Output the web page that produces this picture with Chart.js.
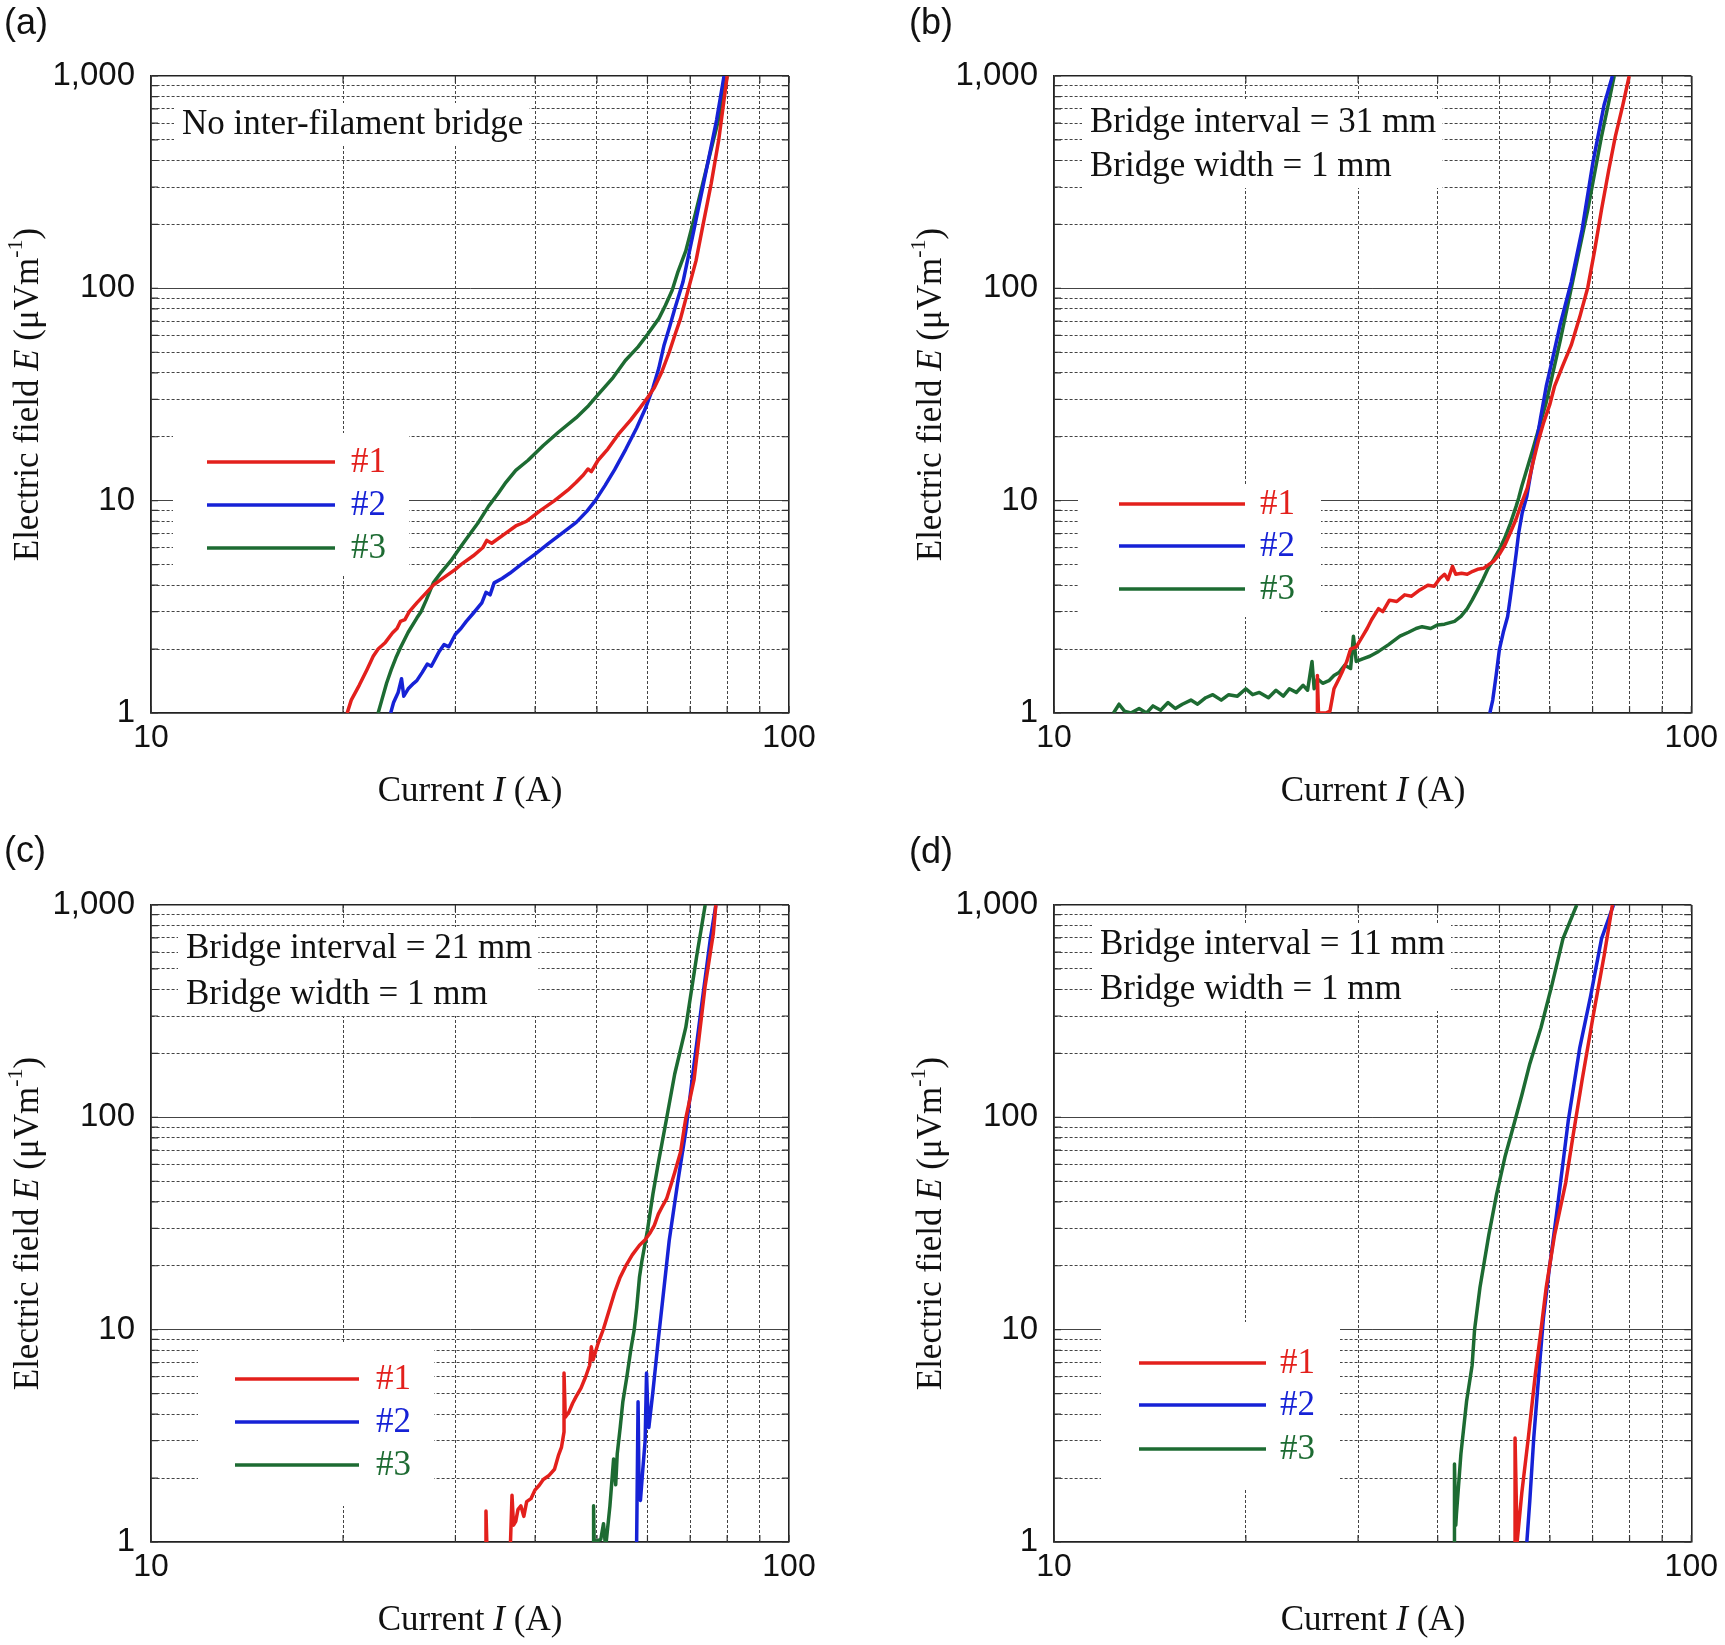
<!DOCTYPE html>
<html>
<head>
<meta charset="utf-8">
<script src="https://cdn.jsdelivr.net/npm/chart.js@4.4.1/dist/chart.umd.min.js"></script>
<style>
  html, body { margin: 0; padding: 0; background: #fff; }
  #wrap { position: relative; width: 1725px; height: 1645px; background: #fff; }
  canvas { position: absolute; }
</style>
</head>
<body>
<div id="wrap">
  <canvas id="pa" width="862" height="822" style="left:0;top:0"></canvas>
  <canvas id="pb" width="862" height="822" style="left:862px;top:0"></canvas>
  <canvas id="pc" width="862" height="822" style="left:0;top:822px"></canvas>
  <canvas id="pd" width="862" height="822" style="left:862px;top:822px"></canvas>
</div>
<script>
// E–I curves: [current I (A), electric field E (µV/m)]
// null E = trace drops below 1 µV/m (gap)

// (a) no inter-filament bridge
const aRed = [[20.3,1.0],[20.6,1.15],[21.2,1.35],[21.8,1.6],[22.3,1.85],[22.7,2.0],[23.3,2.15],[23.9,2.38],[24.3,2.5],[24.6,2.7],[25.0,2.75],[25.4,3.0],[26.1,3.3],[26.7,3.55],[27.7,4.0],[28.8,4.35],[30.0,4.75],[30.6,5.0],[32.0,5.5],[33.1,6.0],[33.6,6.5],[34.2,6.3],[35.9,7.0],[37.3,7.6],[38.8,8.0],[40.8,9.0],[42.9,10.0],[45.0,11.2],[46.4,12.2],[47.6,13.2],[48.4,14.1],[49.0,13.7],[50.2,15.5],[52.0,17.5],[54.0,20.5],[56.5,24],[58.5,27.5],[60.0,30.5],[61.5,34],[63.1,40],[64.9,50],[66.2,60],[67.6,72],[69.6,100],[71.5,135],[73.1,190],[75.5,310],[77.6,500],[80.0,1000]];
const aBlue = [[23.75,1.0],[24.0,1.12],[24.4,1.25],[24.7,1.45],[24.9,1.2],[25.3,1.3],[25.8,1.38],[26.1,1.42],[26.6,1.55],[27.1,1.7],[27.5,1.66],[28.3,1.95],[28.8,2.1],[29.3,2.05],[30.0,2.35],[30.6,2.5],[31.2,2.7],[32.0,2.95],[33.0,3.3],[33.5,3.7],[34.0,3.6],[34.5,4.1],[35.5,4.3],[36.5,4.55],[38.0,5.0],[40.0,5.6],[42.0,6.3],[44.0,7.0],[46.4,7.9],[48.2,8.9],[49.7,10.0],[51.5,11.8],[53.3,14.0],[55.5,17.5],[57.7,22],[59.5,27],[61.2,34],[62.5,42],[63.7,54],[65.0,66],[66.2,80],[68.2,107],[71.0,190],[74.6,390],[77.0,620],[79.1,1000]];
const aGreen = [[22.7,1.0],[23.0,1.15],[23.4,1.38],[23.8,1.6],[24.2,1.82],[24.6,2.03],[25.3,2.4],[26.1,2.8],[26.5,3.0],[27.0,3.4],[27.7,4.1],[28.5,4.6],[29.5,5.2],[30.5,6.0],[31.2,6.6],[32.5,7.8],[33.8,9.4],[35.0,10.8],[36.0,12.2],[37.3,13.9],[39.0,15.5],[41.2,18.2],[43.5,21],[46.4,24.6],[48.5,28],[50.2,31.6],[53.0,38],[55.4,45.7],[58.0,53],[60.0,60.6],[62.5,72],[64.0,83],[65.6,98],[67.0,120],[68.9,150],[71.2,220],[74.6,390],[77.5,620],[80.0,1000]];

// (b) bridge interval 31 mm
const bRed = [[25.9,1.0],[25.9,1.5],[26.0,1.0],[26.7,1.0],[27.1,1.02],[27.5,1.3],[28.0,1.45],[28.3,1.55],[28.8,1.75],[29.2,2.0],[29.8,2.05],[30.5,2.3],[31.0,2.5],[31.5,2.75],[32.3,3.1],[32.8,3.0],[33.6,3.4],[34.5,3.35],[35.5,3.6],[36.4,3.55],[37.5,3.8],[38.6,4.0],[39.5,3.95],[40.3,4.3],[41.0,4.5],[41.5,4.25],[42.2,4.9],[42.7,4.5],[43.6,4.55],[44.5,4.5],[45.4,4.65],[46.2,4.75],[47.2,4.8],[48.1,5.0],[49.0,5.2],[50.0,5.6],[51.0,6.2],[52.0,7.06],[53.1,8.2],[54.2,9.8],[55.3,11.5],[56.4,15],[57.5,19],[58.7,23.5],[60.0,28.5],[61.0,34.5],[62.8,43],[64.8,54],[66.8,73],[68.8,101],[70.5,150],[72.3,235],[74.2,360],[76.0,520],[78.0,720],[79.9,1000]];
const bBlue = [[48.3,1.0],[48.8,1.15],[49.4,1.5],[50.0,2.0],[50.7,2.4],[51.5,2.85],[52.0,3.5],[52.6,4.5],[53.1,5.6],[53.6,7.06],[54.3,8.8],[55.2,10.5],[56.0,13.5],[56.9,17.4],[58.0,24.5],[59.2,34.5],[60.7,48],[62.3,68],[64.8,107],[67.4,189],[70.1,393],[73.0,735],[75.2,1000]];
const bGreen = [[12.4,1.0],[12.65,1.1],[12.9,1.02],[13.2,1.0],[13.6,1.05],[13.97,1.0],[14.3,1.08],[14.7,1.03],[15.1,1.12],[15.5,1.05],[15.9,1.1],[16.4,1.15],[16.8,1.1],[17.3,1.18],[17.75,1.22],[18.3,1.15],[18.8,1.22],[19.4,1.2],[20.0,1.3],[20.5,1.22],[21.0,1.25],[21.7,1.18],[22.3,1.28],[22.9,1.2],[23.4,1.3],[24.0,1.25],[24.6,1.35],[25.0,1.28],[25.4,1.75],[25.6,1.3],[25.9,1.45],[26.4,1.38],[27.0,1.42],[27.5,1.5],[28.0,1.55],[28.6,1.68],[29.2,1.62],[29.5,2.3],[29.8,1.75],[30.5,1.8],[31.3,1.85],[32.3,1.95],[33.5,2.1],[34.9,2.3],[36.0,2.4],[37.0,2.5],[37.8,2.55],[39.0,2.5],[40.0,2.6],[41.0,2.62],[42.5,2.7],[43.5,2.85],[44.5,3.1],[45.3,3.4],[46.2,3.8],[47.1,4.25],[48.0,4.8],[49.0,5.3],[50.0,5.9],[51.0,6.7],[52.0,7.8],[53.1,9.4],[53.6,10.3],[54.2,11.7],[56.4,17.4],[59.2,29],[62.3,57],[64.8,100],[68.8,235],[72.3,520],[75.7,1000]];

// (c) bridge interval 21 mm
const cRed = [[33.5,1.0],[33.5,1.4],[33.6,1.0],[33.7,null],[36.6,1.0],[36.8,1.66],[37.0,1.2],[37.3,1.25],[37.6,1.42],[38.0,1.48],[38.4,1.32],[38.8,1.55],[39.4,1.6],[40.0,1.76],[40.6,1.85],[41.2,1.97],[42.0,2.05],[42.9,2.2],[43.5,2.55],[44.0,2.8],[44.4,3.3],[44.4,6.25],[44.6,3.87],[45.2,4.1],[45.8,4.5],[46.4,4.85],[47.2,5.3],[48.0,6.0],[48.7,6.8],[49.0,8.3],[49.3,7.2],[50.2,8.6],[51.2,10.1],[52.2,12.2],[53.3,15],[54.3,17.5],[55.4,19.8],[56.8,22.5],[58.3,25],[59.5,26.5],[60.6,28.6],[61.5,31],[62.4,35],[63.3,38],[64.3,41.4],[65.3,48],[66.2,55],[67.6,68.4],[68.9,99],[71.0,151],[73.9,417],[76.1,735],[76.8,1000]];
const cBlue = [[57.7,1.0],[58.0,4.58],[58.2,1.8],[58.5,1.57],[59.0,2.2],[59.5,3.0],[59.8,6.25],[60.1,4.0],[60.3,3.46],[61.2,5.13],[62.4,9.0],[63.7,15.8],[64.9,26.3],[66.9,49],[68.9,86],[71.0,179],[73.1,353],[75.3,695],[76.8,1000]];
const cGreen = [[49.4,1.0],[49.4,1.48],[49.5,1.0],[50.7,1.03],[51.2,1.22],[51.5,1.0],[51.7,1.0],[52.4,1.48],[53.1,2.46],[53.5,1.86],[53.8,2.6],[54.4,3.5],[54.9,4.58],[55.7,6.0],[56.5,8.05],[57.2,10.0],[57.7,12.6],[58.3,17.7],[58.8,21],[60.0,29.4],[61.2,43.6],[62.4,61],[64.3,99],[66.2,160],[68.9,265],[71.7,580],[73.9,1000]];

// (d) bridge interval 11 mm
const dRed = [[52.9,1.0],[52.9,3.09],[53.3,1.0],[54.2,1.7],[55.5,3.1],[56.9,6.1],[58.1,10],[59.2,15.8],[61.0,27.8],[63.5,49],[65.4,86],[67.4,150],[70.1,297],[73.0,580],[75.2,1000]];
const dBlue = [[55.2,1.0],[55.8,1.57],[56.6,3.1],[57.7,6.4],[58.6,11.3],[59.8,18.8],[61.6,37],[64.1,96],[66.8,211],[69.5,372],[72.3,695],[75.5,1000]];
const dGreen = [[42.5,1.0],[42.5,2.33],[42.7,1.2],[42.8,1.35],[43.5,2.6],[44.4,4.6],[45.3,6.8],[45.7,10],[46.6,15.8],[48.1,27.8],[49.5,43.6],[51.0,65],[52.6,91],[54.2,127],[55.8,179],[58.1,265],[60.4,417],[62.9,695],[66.1,1000]];

// axes
const xGrid = [10, 20, 30, 40, 50, 60, 70, 80, 90, 100];
const yGrid = [1, 2, 3, 4, 5, 6, 7, 8, 9, 10, 20, 30, 40, 50, 60, 70, 80, 90, 100, 200, 300, 400, 500, 600, 700, 800, 900, 1000];
const xMajor = [10, 100];
const xMajorText = ['10', '100'];
const yMajor = [1, 10, 100, 1000];
const yMajorText = ['1', '10', '100', '1,000'];

const seriesNames = ['#1', '#2', '#3'];
const seriesColors = ['#e3201c', '#1622d6', '#1d6b32'];

const panelTags = ['(a)', '(b)', '(c)', '(d)'];
const panelNotes = [
    ['No inter-filament bridge'],
    ['Bridge interval = 31 mm', 'Bridge width = 1 mm'],
    ['Bridge interval = 21 mm', 'Bridge width = 1 mm'],
    ['Bridge interval = 11 mm', 'Bridge width = 1 mm'],
];

const SERIF = '"Liberation Serif", "Times New Roman", serif';
const SANS = '"Liberation Sans", Arial, sans-serif';

// placement of each panel inside its canvas
const layouts = [
    { id: 'pa', L: 151, T: 76, R: 789, B: 713, tag: [4, 24], noteX: 182, noteY: [125], leg: [207, 335, 351], legY: [462, 505, 548], box: [173, 433, 236, 142] },
    { id: 'pb', L: 192, T: 76, R: 830, B: 713, tag: [47, 24], noteX: 228, noteY: [123, 167], leg: [257, 383, 398], legY: [504, 546, 589], box: [216, 486, 243, 131] },
    { id: 'pc', L: 151, T: 83, R: 789, B: 720, tag: [4, 30], noteX: 186, noteY: [127, 173], leg: [235, 359, 376], legY: [557, 600, 643], box: [198, 520, 236, 164] },
    { id: 'pd', L: 192, T: 83, R: 830, B: 720, tag: [47, 31], noteX: 238, noteY: [123, 168], leg: [277, 404, 418], legY: [541, 583, 627], box: [239, 500, 239, 168] },
];

const panelSeries = [
    [aRed, aBlue, aGreen],
    [bRed, bBlue, bGreen],
    [cRed, cBlue, cGreen],
    [dRed, dBlue, dGreen],
];

const yTitle = [{ t: 'Electric field ' }, { t: 'E', it: true }, { t: ' (μVm' }, { t: '-1', sup: true }, { t: ')' }];
const xTitle = [{ t: 'Current ' }, { t: 'I', it: true }, { t: ' (A)' }];

function isDecade(v) {
    const l = Math.log10(v);
    return Math.abs(l - Math.round(l)) < 1e-9;
}

function setPartFont(ctx, part, size) {
    const s = part.sup ? Math.round(size * 0.62) : size;
    ctx.font = (part.it ? 'italic ' : '') + s + 'px ' + SERIF;
}

// mixed italic / superscript text, centred on (cx, cy)
function drawRich(ctx, parts, cx, cy, size) {
    let total = 0;
    parts.forEach(p => { setPartFont(ctx, p, size); total += ctx.measureText(p.t).width; });
    let x = cx - total / 2;
    ctx.textAlign = 'left';
    ctx.textBaseline = 'middle';
    parts.forEach(p => {
        setPartFont(ctx, p, size);
        ctx.fillText(p.t, x, p.sup ? cy - size * 0.36 : cy);
        x += ctx.measureText(p.t).width;
    });
}

function gridStyle(min, max) {
    return {
        drawTicks: false,
        color: c => {
            const v = c.tick.value;
            if (v === min || v === max) return '#222';
            return '#444';
        },
        lineWidth: c => (c.tick.value === min || c.tick.value === max) ? 1.6 : 1,
    };
}

function borderStyle() {
    return {
        display: true,
        color: '#222',
        width: 1.6,
        dash: c => (c.tick && !isDecade(c.tick.value)) ? [3, 2] : [],
    };
}

function renderPanel(idx) {
    const p = layouts[idx];
    const canvas = document.getElementById(p.id);
    const W = canvas.width, H = canvas.height;
    const notes = panelNotes[idx];

    const decor = {
        id: 'decor',
        beforeDatasetsDraw(chart) {
            const ctx = chart.ctx;
            const { left, right, top, bottom } = chart.chartArea;
            const xs = chart.scales.x, ys = chart.scales.y;
            ctx.save();
            // short solid tick stubs on the inside of the frame
            ctx.strokeStyle = '#333';
            ctx.lineWidth = 1.2;
            ctx.beginPath();
            yGrid.forEach(v => {
                const y = ys.getPixelForValue(v);
                ctx.moveTo(left, y); ctx.lineTo(left + 7, y);
                ctx.moveTo(right, y); ctx.lineTo(right - 7, y);
            });
            xGrid.forEach(v => {
                const x = xs.getPixelForValue(v);
                ctx.moveTo(x, top); ctx.lineTo(x, top + 7);
                ctx.moveTo(x, bottom); ctx.lineTo(x, bottom - 7);
            });
            ctx.stroke();
            ctx.fillStyle = '#fff';
            // legend background
            ctx.fillRect(p.box[0], p.box[1], p.box[2], p.box[3]);
            // note background
            ctx.font = '35px ' + SERIF;
            const w = Math.max(...notes.map(n => ctx.measureText(n).width));
            const y0 = p.noteY[0] - 22, y1 = p.noteY[p.noteY.length - 1] + 21;
            ctx.fillRect(p.noteX - 8, y0, w + 14, y1 - y0);
            ctx.restore();
        },
        afterDraw(chart) {
            const ctx = chart.ctx;
            ctx.save();
            ctx.fillStyle = '#111';
            // panel tag
            ctx.font = '36px ' + SANS;
            ctx.textAlign = 'left';
            ctx.textBaseline = 'middle';
            ctx.fillText(panelTags[idx], p.tag[0], p.tag[1]);
            // notes
            ctx.font = '35px ' + SERIF;
            notes.forEach((n, i) => ctx.fillText(n, p.noteX, p.noteY[i]));
            // axis titles
            drawRich(ctx, xTitle, (p.L + p.R) / 2, p.B + 79, 35);
            ctx.save();
            ctx.translate(p.L - 122, (p.T + p.B) / 2);
            ctx.rotate(-Math.PI / 2);
            drawRich(ctx, yTitle, 0, 0, 35);
            ctx.restore();
            // legend
            seriesNames.forEach((name, i) => {
                ctx.strokeStyle = seriesColors[i];
                ctx.lineWidth = 3.5;
                ctx.beginPath();
                ctx.moveTo(p.leg[0], p.legY[i]);
                ctx.lineTo(p.leg[1], p.legY[i]);
                ctx.stroke();
                ctx.fillStyle = seriesColors[i];
                ctx.font = '35px ' + SERIF;
                ctx.fillText(name, p.leg[2], p.legY[i] + 1);
            });
            ctx.restore();
        },
    };

    return new Chart(canvas, {
        type: 'line',
        data: {
            datasets: panelSeries[idx].map((s, i) => ({
                label: seriesNames[i],
                data: s.map(pt => ({ x: pt[0], y: pt[1] })),
                borderColor: seriesColors[i],
                borderWidth: 3.5,
                borderJoinStyle: 'round',
                pointRadius: 0,
                tension: 0,
                fill: false,
            })),
        },
        options: {
            responsive: false,
            animation: false,
            devicePixelRatio: 1,
            layout: { padding: { left: p.L - 130, top: p.T, right: W - p.R, bottom: H - p.B - 60 } },
            plugins: { legend: { display: false }, tooltip: { enabled: false } },
            scales: {
                x: {
                    type: 'logarithmic',
                    min: 10,
                    max: 100,
                    afterBuildTicks: s => { s.ticks = xGrid.map(v => ({ value: v })); },
                    afterFit: s => { s.height = 60; },
                    grid: gridStyle(10, 100),
                    border: borderStyle(),
                    ticks: {
                        autoSkip: false,
                        maxRotation: 0,
                        minRotation: 0,
                        padding: 6,
                        color: '#111',
                        font: { family: SANS, size: 32 },
                        callback: v => { const k = xMajor.indexOf(v); return k >= 0 ? xMajorText[k] : ''; },
                    },
                },
                y: {
                    type: 'logarithmic',
                    min: 1,
                    max: 1000,
                    afterBuildTicks: s => { s.ticks = yGrid.map(v => ({ value: v })); },
                    afterFit: s => { s.width = 130; },
                    grid: gridStyle(1, 1000),
                    border: borderStyle(),
                    ticks: {
                        autoSkip: false,
                        padding: 16,
                        color: '#111',
                        font: { family: SANS, size: 33 },
                        callback: v => { const k = yMajor.indexOf(v); return k >= 0 ? yMajorText[k] : ''; },
                    },
                },
            },
        },
        plugins: [decor],
    });
}

layouts.forEach((_, i) => renderPanel(i));
</script>
</body>
</html>
